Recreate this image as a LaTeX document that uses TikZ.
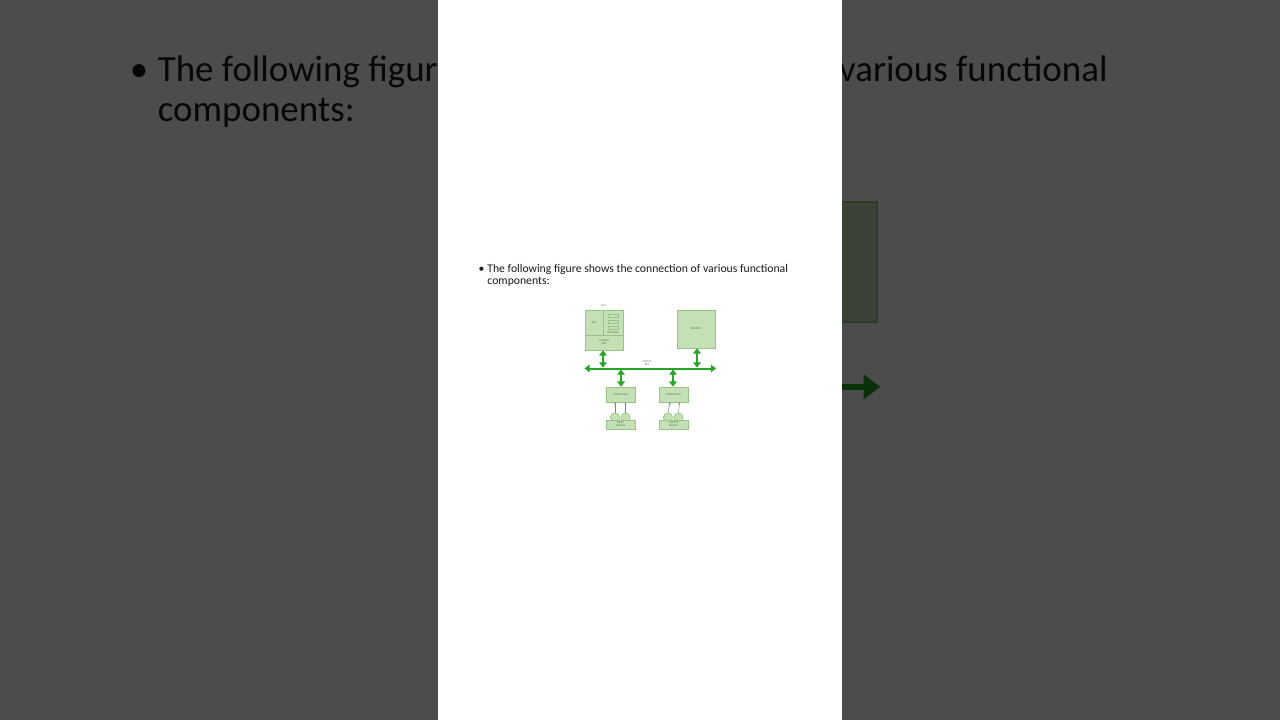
\documentclass[tikz,border=0pt]{standalone}
\usepackage{fontspec}
\setmainfont{Carlito}
\usetikzlibrary{arrows.meta}
\definecolor{boxfill}{HTML}{C5E0B4}
\definecolor{boxline}{HTML}{98C485}
\definecolor{busgreen}{HTML}{26A526}
\definecolor{lbltext}{HTML}{5A6A55}
\definecolor{slidetext}{HTML}{1A1A1A}
\tikzset{
  blk/.style={draw=boxline, fill=boxfill, line width=0.35pt, inner sep=0pt},
  lbl/.style={font=\fontsize{1.35}{1.6}\selectfont, text=lbltext, align=center, inner sep=0pt},
  busarrow/.style={draw=busgreen, line width=1pt, {Triangle[length=2.6pt,width=3.8pt]}-{Triangle[length=2.6pt,width=3.8pt]}},
  devarrow/.style={draw=gray, line width=0.25pt, -{Stealth[length=1pt,width=1pt]}},
  slidefont/.style={font=\fontsize{5.85}{6.4}\selectfont, text=slidetext, inner sep=0pt}
}
\newcommand\slidebody{%
  % text
  \node[slidefont, anchor=base] (bul) at (481.5,272) {•};
  \node[slidefont, anchor=base west] (txt1) at (487,272)
    {The following figure shows the connection of various functional};
  \node[slidefont, anchor=base west] (txt2) at (487,284.5) {components:};
  % CPU
  \node[lbl] (cpulbl) at (603.5,306) {CPU};
  \node[blk, minimum width=19pt, minimum height=20pt] (cpu) at (604,330) {};
  \draw[boxline, line width=0.35pt] (585,335) -- (623,335);
  \draw[boxline, line width=0.35pt] (603,310) -- (603,335);
  \node[lbl] (alu) at (594,322.5) {ALU};
  \node[blk, minimum width=5pt, minimum height=1.6pt] (r1) at (613,315.5) {};
  \node[blk, minimum width=5pt, minimum height=1.6pt] (r2) at (613,321.5) {};
  \node[blk, minimum width=5pt, minimum height=1.6pt] (r3) at (613,327.5) {};
  \node[lbl] (reg) at (613,332.3) {REGISTERS};
  \node[lbl] (cu) at (604,342.5) {CONTROL\\UNIT};
  % memory
  \node[blk, minimum width=19pt, minimum height=19pt] (mem) at (696,329) {};
  \node[lbl] (memlbl) at (mem.center) {MEMORY};
  % bus
  \coordinate (busL) at (584.5,368.5);
  \coordinate (busR) at (716,368.5);
  \draw[busarrow] (busL) -- (busR);
  \node[lbl] (buslbl) at (647,363.5) {SYSTEM\\BUS};
  % controllers
  \node[blk, minimum width=14.5pt, minimum height=7.5pt] (ctlA) at (620.5,394.5) {};
  \node[lbl] at (ctlA.center) {CONTROLLER};
  \node[blk, minimum width=14.5pt, minimum height=7.5pt] (ctlB) at (673.5,394.5) {};
  \node[lbl] at (ctlB.center) {CONTROLLER};
  % vertical bus arrows
  \coordinate (cpuB) at (603,367.5);
  \coordinate (memB) at (697,367.5);
  \coordinate (ctlAB) at (621,369.5);
  \coordinate (ctlBB) at (673,369.5);
  \draw[busarrow] (cpu.south -| cpuB) -- (cpuB);
  \draw[busarrow] (mem.south -| memB) -- (memB);
  \draw[busarrow] (ctlAB) -- (ctlA.north -| ctlAB);
  \draw[busarrow] (ctlBB) -- (ctlB.north -| ctlBB);
  % devices
  \node[blk, circle, minimum size=4.6pt] (ia) at (615,417.5) {};
  \node[blk, circle, minimum size=4.6pt] (ib) at (625.5,417.5) {};
  \node[blk, circle, minimum size=4.6pt] (oa) at (668,417.5) {};
  \node[blk, circle, minimum size=4.6pt] (ob) at (678.5,417.5) {};
  \node[blk, minimum width=14.5pt, minimum height=4.6pt] (inp) at (620.5,424.5) {};
  \node[lbl] at (inp.center) {INPUT\\DEVICES};
  \node[blk, minimum width=14.5pt, minimum height=4.6pt] (outp) at (673.5,424.5) {};
  \node[lbl] at (outp.center) {OUTPUT\\DEVICES};
  \draw[devarrow] (ia.north) -- (ia.north |- ctlA.south);
  \draw[devarrow] (ib.north) -- (ib.north |- ctlA.south);
  \draw[devarrow] (oa.north) -- ([xshift=1pt]oa.north |- ctlB.south);
  \draw[devarrow] (ob.north) -- ([xshift=0.5pt]ob.north |- ctlB.south);
}
\begin{document}
\begin{tikzpicture}[x=0.5pt, y=-0.5pt]
  \useasboundingbox (0,0) rectangle (1280,720);
  \fill[white] (0,0) rectangle (1280,720);
  \begin{scope}
    \clip (0,0) rectangle (1280,720);
    \begin{scope}[transform canvas={shift={(640,360)}, scale=3.16, shift={(-640,-360)}}]
      \slidebody
    \end{scope}
    \fill[black, opacity=0.7] (0,0) rectangle (1280,720);
  \end{scope}
  \fill[white] (438,0) rectangle (842,720);
  \slidebody
\end{tikzpicture}
\end{document}
